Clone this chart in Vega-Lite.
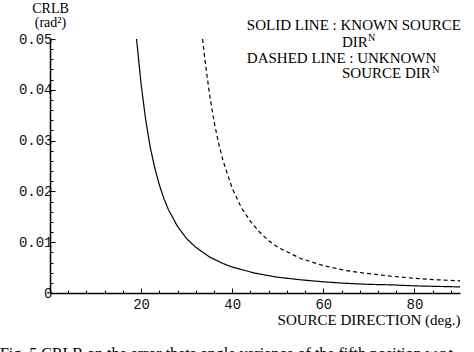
{
  "$schema": "https://vega.github.io/schema/vega-lite/v6.json",
  "autosize": "none",
  "width": 410,
  "height": 254,
  "padding": {"left": 50, "top": 39, "right": 14, "bottom": 59},
  "background": "white",
  "config": {"view": {"stroke": null}},
  "resolve": {"axis": {"x": "independent", "y": "independent"}},
  "datasets": {
    "curves": [
      {"theta": 19, "crlb": 0.0500, "series": "known"},
      {"theta": 20, "crlb": 0.0411, "series": "known"},
      {"theta": 21, "crlb": 0.0341, "series": "known"},
      {"theta": 22, "crlb": 0.0287, "series": "known"},
      {"theta": 23, "crlb": 0.0246, "series": "known"},
      {"theta": 24, "crlb": 0.0213, "series": "known"},
      {"theta": 25, "crlb": 0.0186, "series": "known"},
      {"theta": 26, "crlb": 0.0164, "series": "known"},
      {"theta": 28, "crlb": 0.0131, "series": "known"},
      {"theta": 30, "crlb": 0.0107, "series": "known"},
      {"theta": 32, "crlb": 0.0090, "series": "known"},
      {"theta": 35, "crlb": 0.0071, "series": "known"},
      {"theta": 38, "crlb": 0.0058, "series": "known"},
      {"theta": 40, "crlb": 0.0051, "series": "known"},
      {"theta": 45, "crlb": 0.0039, "series": "known"},
      {"theta": 50, "crlb": 0.0031, "series": "known"},
      {"theta": 55, "crlb": 0.0026, "series": "known"},
      {"theta": 60, "crlb": 0.0022, "series": "known"},
      {"theta": 65, "crlb": 0.0019, "series": "known"},
      {"theta": 70, "crlb": 0.0017, "series": "known"},
      {"theta": 75, "crlb": 0.0016, "series": "known"},
      {"theta": 80, "crlb": 0.0014, "series": "known"},
      {"theta": 85, "crlb": 0.0013, "series": "known"},
      {"theta": 90, "crlb": 0.0012, "series": "known"},
      {"theta": 33.5, "crlb": 0.0500, "series": "unknown"},
      {"theta": 34, "crlb": 0.0460, "series": "unknown"},
      {"theta": 35, "crlb": 0.0392, "series": "unknown"},
      {"theta": 36, "crlb": 0.0338, "series": "unknown"},
      {"theta": 37, "crlb": 0.0295, "series": "unknown"},
      {"theta": 38, "crlb": 0.0260, "series": "unknown"},
      {"theta": 40, "crlb": 0.0206, "series": "unknown"},
      {"theta": 42, "crlb": 0.0168, "series": "unknown"},
      {"theta": 44, "crlb": 0.0141, "series": "unknown"},
      {"theta": 46, "crlb": 0.0120, "series": "unknown"},
      {"theta": 48, "crlb": 0.0103, "series": "unknown"},
      {"theta": 50, "crlb": 0.0090, "series": "unknown"},
      {"theta": 55, "crlb": 0.0068, "series": "unknown"},
      {"theta": 60, "crlb": 0.0054, "series": "unknown"},
      {"theta": 65, "crlb": 0.0044, "series": "unknown"},
      {"theta": 70, "crlb": 0.0038, "series": "unknown"},
      {"theta": 75, "crlb": 0.0033, "series": "unknown"},
      {"theta": 80, "crlb": 0.0029, "series": "unknown"},
      {"theta": 85, "crlb": 0.0026, "series": "unknown"},
      {"theta": 90, "crlb": 0.0024, "series": "unknown"}
    ],
    "notes": [
      {"tx": 43.2, "ty": 0.0528, "label": "SOLID LINE : KNOWN SOURCE"},
      {"tx": 64.1, "ty": 0.0494, "label": "DIR"},
      {"tx": 43.2, "ty": 0.0463, "label": "DASHED LINE : UNKNOWN"},
      {"tx": 64.1, "ty": 0.0433, "label": "SOURCE DIR"}
    ],
    "sups": [
      {"tx": 69.8, "ty": 0.0501, "label": "N"},
      {"tx": 83.9, "ty": 0.0439, "label": "N"}
    ],
    "caption": [
      {"tx": -11, "ty": -0.0104, "label": "Fig. 5   CRLB on the error theta angle variance of the fifth position w.r.t."}
    ]
  },
  "layer": [
    {
      "data": {"name": "curves"},
      "mark": {"type": "line", "color": "black", "strokeWidth": 1.2, "clip": true},
      "encoding": {
        "x": {
          "field": "theta", "type": "quantitative",
          "scale": {"domain": [0, 90], "nice": false, "zero": false},
          "axis": {
            "orient": "bottom",
            "values": [20, 40, 60, 80],
            "labelOverlap": false,
            "labelFont": "Liberation Mono", "labelFontSize": 14, "labelColor": "#111",
            "labelPadding": 9,
            "tickSize": -5,
            "tickColor": "black", "tickWidth": 1,
            "domainColor": "black", "domainWidth": 1.5,
            "grid": false,
            "title": "SOURCE DIRECTION (deg.)",
            "titleFont": "Liberation Serif", "titleFontSize": 15, "titleFontWeight": "normal",
            "titleColor": "black", "titleAnchor": "end", "titlePadding": 1
          }
        },
        "y": {
          "field": "crlb", "type": "quantitative",
          "scale": {"domain": [0, 0.05], "nice": false},
          "axis": {
            "orient": "left",
            "values": [0, 0.01, 0.02, 0.03, 0.04, 0.05],
            "labelExpr": "datum.value === 0 ? '0' : format(datum.value, '.2f')",
            "labelOverlap": false,
            "labelFont": "Liberation Mono", "labelFontSize": 14, "labelColor": "#111",
            "labelPadding": 3,
            "tickSize": -5,
            "tickColor": "black", "tickWidth": 1,
            "domainColor": "black", "domainWidth": 1.5,
            "grid": false,
            "title": ["CRLB", "(rad²)"],
            "titleFont": "Liberation Serif", "titleFontSize": 14, "titleFontWeight": "normal",
            "titleColor": "black", "titleAngle": 0, "titleAlign": "center",
            "titleBaseline": "alphabetic", "titleX": 0, "titleY": -27, "titleLineHeight": 14
          }
        },
        "strokeDash": {
          "field": "series", "type": "nominal",
          "scale": {"domain": ["known", "unknown"], "range": [[1, 0], [4, 3]]},
          "legend": null
        }
      }
    },
    {
      "data": {"name": "notes"},
      "mark": {"type": "text", "align": "left", "baseline": "middle", "font": "Liberation Serif", "fontSize": 15, "color": "black"},
      "encoding": {
        "x": {
          "field": "tx", "type": "quantitative",
          "axis": {
            "orient": "bottom",
            "values": [4, 8, 12, 16, 24, 28, 32, 36, 44, 48, 52, 56, 64, 68, 72, 76, 84, 88],
            "labels": false, "domain": false, "grid": false,
            "tickSize": -3, "tickColor": "black", "tickWidth": 1,
            "title": null
          }
        },
        "y": {
          "field": "ty", "type": "quantitative",
          "axis": {
            "orient": "left",
            "values": [0.002, 0.004, 0.006, 0.008, 0.012, 0.014, 0.016, 0.018, 0.022, 0.024, 0.026, 0.028, 0.032, 0.034, 0.036, 0.038, 0.042, 0.044, 0.046, 0.048],
            "labels": false, "domain": false, "grid": false,
            "tickSize": -3, "tickColor": "black", "tickWidth": 1,
            "title": null
          }
        },
        "text": {"field": "label"}
      }
    },
    {
      "data": {"name": "sups"},
      "mark": {"type": "text", "align": "left", "baseline": "middle", "font": "Liberation Serif", "fontSize": 10, "color": "black"},
      "encoding": {
        "x": {"field": "tx", "type": "quantitative", "axis": null},
        "y": {"field": "ty", "type": "quantitative", "axis": null},
        "text": {"field": "label"}
      }
    },
    {
      "data": {"name": "caption"},
      "mark": {"type": "text", "align": "left", "baseline": "top", "font": "Liberation Serif", "fontSize": 16, "color": "black"},
      "encoding": {
        "x": {"field": "tx", "type": "quantitative", "axis": null},
        "y": {"field": "ty", "type": "quantitative", "axis": null},
        "text": {"field": "label"}
      }
    }
  ]
}
